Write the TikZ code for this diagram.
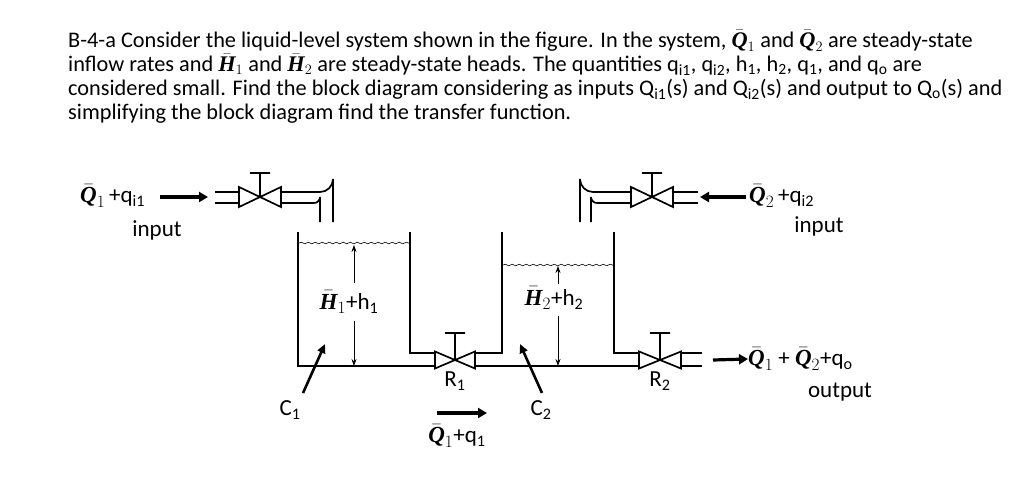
\documentclass[tikz,border=0pt]{standalone}
\usepackage{fontspec}
\usepackage{amsmath}
\setmainfont{Carlito}
\newfontfamily\srf{Liberation Serif}
\usetikzlibrary{decorations.pathmorphing,arrows.meta}
\newcommand{\Qb}[1]{$\bar{\text{\srf\bfseries\itshape Q}}_{#1}$}
\newcommand{\Hb}[1]{$\bar{\text{\srf\bfseries\itshape H}}_{#1}$}
\begin{document}
\begin{tikzpicture}[x=1pt,y=-1pt,
  wall/.style={line width=1.7pt},
  water/.style={line width=0.6pt,decorate,decoration={snake,amplitude=0.8pt,segment length=7pt}},
  dim/.style={line width=0.7pt,-{Stealth[length=7pt,width=5pt]}},
  fat/.style={line width=3.2pt,-{Triangle[length=9pt,width=10pt]}},
  lbl/.style={font=\fontsize{23}{24}\selectfont,inner sep=0pt},
  valve/.style={line width=1.7pt}]
\useasboundingbox (0,0) rectangle (1021,490);
\node[anchor=north west,inner sep=0pt,align=left,font=\fontsize{22.3}{24}\selectfont] (hdr) at (68,30) {B-4-a Consider the liquid-level system shown in the figure. In the system, \Qb1 and \Qb2 are steady-state\\
inflow rates and \Hb1 and \Hb2 are steady-state heads. The quantities q\textsubscript{i1}, q\textsubscript{i2}, h\textsubscript{1}, h\textsubscript{2}, q\textsubscript{1}, and q\textsubscript{o} are\\
considered small. Find the block diagram considering as inputs Q\textsubscript{i1}(s) and Q\textsubscript{i2}(s) and output to Q\textsubscript{o}(s) and\\
simplifying the block diagram find the transfer function.};
% tanks
\draw[wall] (298,232) -- (298,366) -- (436,366);
\draw[wall] (410,232) -- (410,353) -- (436,353);
\draw[wall] (476,353) -- (502,353) -- (502,232);
\draw[wall] (476,366) -- (638,366);
\draw[wall] (614,232) -- (614,353) -- (638,353);
\draw[wall] (680,353) -- (702,353) (680,366) -- (702,366);
\draw[water] (299,243) -- (409,243);
\draw[water] (503,265) -- (613,265);
% valves
\foreach \cx/\cy/\w/\h/\st/\nm in {455/360/20/8.5/27/v1,660/360/21/8.5/27/v2,260/197/21/10/24/v3,652/197/21/10/24/v4}{
  \coordinate (\nm) at (\cx,\cy);
  \draw[valve] (\cx,\cy) -- (\cx-\w,\cy-\h) -- (\cx-\w,\cy+\h) -- cycle
               (\cx,\cy) -- (\cx+\w,\cy-\h) -- (\cx+\w,\cy+\h) -- cycle
               (\cx,\cy) -- (\cx,\cy-\st) (\cx-10,\cy-\st) -- (\cx+10,\cy-\st);
}
% left input pipe
\draw[wall] (215,192) -- (239,192) (215,203) -- (239,203);
\draw[wall] (281,192) -- (320,192) arc[start angle=90,end angle=0,radius=13] -- (333,222);
\draw[wall] (281,203) -- (314,203) arc[start angle=90,end angle=0,radius=6] -- (320,222);
% right input pipe
\draw[wall] (673,192) -- (698,192) (673,203) -- (698,203);
\draw[wall] (631,192) -- (593,192) arc[start angle=90,end angle=180,radius=13] -- (580,222);
\draw[wall] (631,203) -- (597,203) arc[start angle=90,end angle=180,radius=6] -- (591,222);
% labels
\node[lbl,anchor=west] (q1in) at (80,196) {\Qb1\,+q\textsubscript{i1}};
\node[lbl] (in1) at (157,230) {input};
\coordinate (a1s) at (160,197); \coordinate (a1) at (208,197);
\draw[fat] (a1s) -- (a1);
\node[lbl,anchor=west] (q2in) at (749,196) {\Qb2\,+q\textsubscript{i2}};
\node[lbl] (in2) at (819,226) {input};
\coordinate (a2s) at (746,197); \coordinate (a2) at (700,197);
\draw[fat] (a2s) -- (a2);
\node[lbl,anchor=west] (qout) at (748,359) {\Qb1 + \Qb2+q\textsubscript{o}};
\node[lbl] (out) at (840,392) {output};
\coordinate (a3s) at (713,360);
\draw[fat] (a3s) -- (qout.west);
% heights
\node[lbl] (h1) at (349,302) {\Hb1+h\textsubscript{1}};
\node[lbl] (h2) at (554,298) {\Hb2+h\textsubscript{2}};
\coordinate (h1t) at (354,245); \coordinate (h1b) at (354,366);
\coordinate (h2t) at (558,266); \coordinate (h2b) at (558,366);
\draw[dim] (354,283) -- (h1t);
\draw[dim] (354,321) -- (h1b);
\draw[dim] (558,284) -- (h2t);
\draw[dim] (558,316) -- (h2b);
% capacitances
\node[lbl] (c1) at (290,410) {C\textsubscript{1}};
\node[lbl] (c2) at (541,410) {C\textsubscript{2}};
\coordinate (c1t) at (325,344); \coordinate (c2t) at (520,344);
\draw[line width=2.6pt,-{Triangle[length=9pt,width=8pt]}] (303,393) -- (c1t);
\draw[line width=2.6pt,-{Triangle[length=9pt,width=8pt]}] (542,393) -- (c2t);
\node[lbl] (r1) at (455,381) {R\textsubscript{1}};
\node[lbl] (r2) at (660,381) {R\textsubscript{2}};
\node[lbl] (q1) at (457,436) {\Qb1+q\textsubscript{1}};
\coordinate (f1) at (437,413); \coordinate (f2) at (487,413);
\draw[fat] (f1) -- (f2);
\end{tikzpicture}
\end{document}
